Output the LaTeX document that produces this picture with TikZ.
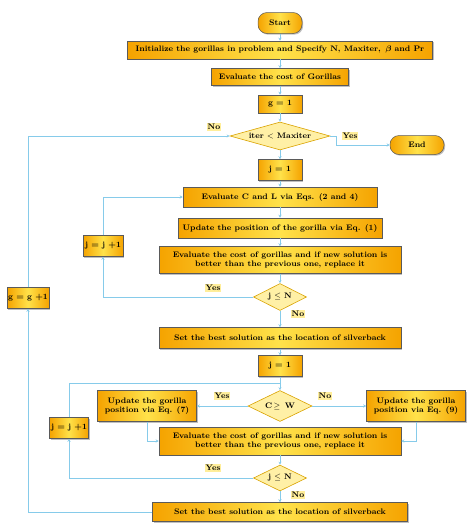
\documentclass[tikz,border=0pt]{standalone}
\usepackage{bm}
\usetikzlibrary{shapes.geometric,arrows.meta,shadows}
\definecolor{conn}{HTML}{86CBEA}
\definecolor{bor}{HTML}{F5A300}
\definecolor{byel}{HTML}{FFE24A}
\definecolor{edgec}{HTML}{5A5A5A}
\definecolor{dfill}{HTML}{FFF0A6}
\definecolor{dedge}{HTML}{D9A200}
\definecolor{lab}{HTML}{FFEE9A}
\tikzset{
  every node/.style={font=\fontsize{8}{9.5}\selectfont\bfseries},
  procbox/.style={rectangle, draw=edgec, line width=0.5pt, left color=bor, right color=bor, middle color=byel,
    inner sep=1pt, align=center,
    drop shadow={shadow xshift=1.2pt, shadow yshift=-1.2pt, fill=black!50, opacity=0.5}},
  termbox/.style={procbox, rounded corners=9pt},
  decbox/.style={diamond, draw=dedge, line width=0.6pt, fill=dfill, inner sep=0pt, aspect=3},
  lbl/.style={fill=lab, inner sep=1pt},
  conline/.style={draw=conn, line width=0.6pt},
  arr/.style={conline, -{Stealth[length=3pt,width=3pt]}}
}
\begin{document}
\begin{tikzpicture}[x=1pt,y=-1pt]
\useasboundingbox (0,0) rectangle (474,530);
% nodes
\node[termbox, minimum width=44pt, minimum height=21pt] (start) at (280,23) {Start};
\node[procbox, minimum width=305pt, minimum height=18pt] (init) at (280,50) {Initialize the gorillas in problem and Specify N, Maxiter, \,$\bm{\beta}$ and Pr};
\node[procbox, minimum width=137pt, minimum height=17pt] (evalg) at (280,77) {Evaluate the cost of Gorillas};
\node[procbox, minimum width=44pt, minimum height=18pt] (g1) at (280,104) {g = 1};
\node[decbox, minimum width=100pt, minimum height=28pt] (d1) at (280,136) {iter $<$ Maxiter};
\node[termbox, minimum width=54pt, minimum height=19pt] (end) at (417,145) {End};
\node[procbox, minimum width=44pt, minimum height=21pt] (j1) at (280,170) {j = 1};
\node[procbox, minimum width=194pt, minimum height=20pt] (evalcl) at (280,197) {Evaluate C and L via Eqs. (2 and 4)};
\node[procbox, minimum width=204pt, minimum height=20pt] (upd) at (280,228) {Update the position of the gorilla via Eq. (1)};
\node[procbox, minimum width=242pt, minimum height=27pt] (ev1) at (280,260) {Evaluate the cost of gorillas and if new solution is\\better than the previous one, replace it};
\node[decbox, minimum width=53pt, minimum height=27pt] (dj1) at (280,297) {j $\leq$ N};
\node[procbox, minimum width=40pt, minimum height=21pt] (jj1) at (103,246) {j = j +1};
\node[procbox, minimum width=40pt, minimum height=21pt] (gg) at (28,298) {g = g +1};
\node[procbox, minimum width=242pt, minimum height=21pt] (best1) at (280,338) {Set the best solution as the location of silverback};
\node[procbox, minimum width=44pt, minimum height=21pt] (j2) at (280,366) {j = 1};
\node[decbox, minimum width=64pt, minimum height=31pt] (dcw) at (280,406) {C$\,\geq\,$ W};
\node[procbox, minimum width=99pt, minimum height=31pt] (updl) at (147,406) {Update the gorilla\\position via Eq. (7)};
\node[procbox, minimum width=99pt, minimum height=31pt] (updr) at (416,406) {Update the gorilla\\position via Eq. (9)};
\node[procbox, minimum width=242pt, minimum height=28pt] (ev2) at (280,441) {Evaluate the cost of gorillas and if new solution is\\better than the previous one, replace it};
\node[procbox, minimum width=39pt, minimum height=21pt] (jj2) at (69,428) {j = j +1};
\node[decbox, minimum width=53pt, minimum height=26pt] (dj2) at (280,478) {j $\leq$ N};
\node[procbox, minimum width=255pt, minimum height=19pt] (best2) at (280,512) {Set the best solution as the location of silverback};
\coordinate (jn) at (280,383);
% connectors
\draw[arr] (start) -- (init);
\draw[arr] (init) -- (evalg);
\draw[arr] (evalg) -- (g1);
\draw[arr] (g1) -- (d1);
\draw[arr] (d1) -- (j1);
\draw[arr] (d1.east) -- ++(6,0) |- (end.west);
\draw[arr] (gg.north) |- (d1.west);
\draw[arr] (j1) -- (evalcl);
\draw[arr] (evalcl) -- (upd);
\draw[arr] (upd) -- (ev1);
\draw[arr] (ev1) -- (dj1);
\draw[arr] (dj1) -- (best1);
\draw[arr] (dj1.west) -| (jj1.south);
\draw[arr] (jj1.north) |- (evalcl.west);
\draw[arr] (best1) -- (j2);
\draw[conline] (j2.south) -- (jn);
\draw[arr] (jn) -- (dcw.north);
\draw[conline] (jj2.north) |- (jn);
\draw[arr] (dcw.west) -- (updl.east);
\draw[arr] (dcw.east) -- (updr.west);
\draw[arr] (updl.south) |- (ev2.west);
\draw[arr] (updr.south) |- (ev2.east);
\draw[arr] (ev2) -- (dj2);
\draw[arr] (dj2.west) -| (jj2.south);
\draw[arr] (dj2) -- (best2);
\draw[arr] (best2.west) -| (gg.south);
% labels
\node[lbl] (lno1) at (214,127) {No};
\node[lbl] (lyes1) at (350,136) {Yes};
\node[lbl] (lyes2) at (213,288) {Yes};
\node[lbl] (lno2) at (298,314) {No};
\node[lbl] (lyes3) at (222,396) {Yes};
\node[lbl] (lno3) at (325,396) {No};
\node[lbl] (lyes4) at (213,468) {Yes};
\node[lbl] (lno4) at (298,495) {No};
\end{tikzpicture}
\end{document}
